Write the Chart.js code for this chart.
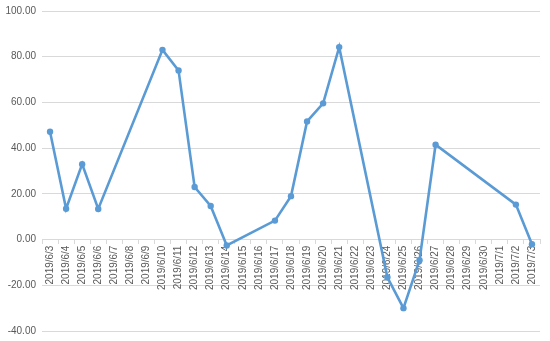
<!DOCTYPE html>
<html>
<head>
<meta charset="utf-8">
<script src="https://cdn.jsdelivr.net/npm/chart.js@4"></script>
<style>
html,body{margin:0;padding:0;background:#fff;}
#wrap{width:550px;height:341px;position:relative;}
</style>
</head>
<body>
<div id="wrap"><canvas id="c" width="550" height="341"></canvas></div>
<script>
const dates = ["2019/6/3","2019/6/4","2019/6/5","2019/6/6","2019/6/7","2019/6/8","2019/6/9","2019/6/10","2019/6/11","2019/6/12","2019/6/13","2019/6/14","2019/6/15","2019/6/16","2019/6/17","2019/6/18","2019/6/19","2019/6/20","2019/6/21","2019/6/22","2019/6/23","2019/6/24","2019/6/25","2019/6/26","2019/6/27","2019/6/28","2019/6/29","2019/6/30","2019/7/1","2019/7/2","2019/7/3"];
const values = [47.2,13.5,33.0,13.4,null,null,null,83.0,74.0,23.0,14.7,-2.6,null,null,8.3,19.0,51.7,59.6,84.2,null,null,-16.5,-30.0,-9.0,41.5,null,null,null,null,15.3,-2.0];
const yTicks = [-40,-20,0,20,40,60,80,100];

const textColor = '#595959';
const gridColor = '#d9d9d9';
const lineColor = '#5b9bd5';

new Chart(document.getElementById('c'), {
  type: 'line',
  data: {
    labels: dates,
    datasets: [{
      data: values,
      borderColor: lineColor,
      backgroundColor: lineColor,
      borderWidth: 2.6,
      pointRadius: 3.2,
      pointHoverRadius: 3.2,
      pointBorderWidth: 0,
      spanGaps: true,
      tension: 0
    }]
  },
  options: {
    responsive: false,
    animation: false,
    devicePixelRatio: 1,
    layout: {padding: {left: 0, top: 11, right: 10, bottom: 10}},
    plugins: {legend: {display: false}, tooltip: {enabled: false}},
    scales: {
      x: {
        type: 'category',
        position: {y: 0},
        offset: true,
        afterFit: (s) => { s.paddingTop = 0; s.paddingBottom = 0; },
        grid: {
          offset: true,
          drawOnChartArea: false,
          drawTicks: true,
          tickLength: 4,
          color: gridColor
        },
        border: {display: true, color: gridColor, width: 1},
        ticks: {
          autoSkip: false,
          minRotation: 90,
          maxRotation: 90,
          padding: 2,
          color: textColor,
          font: {family: 'Liberation Sans', size: 10}
        }
      },
      y: {
        min: yTicks[0],
        max: yTicks[yTicks.length - 1],
        afterFit: (s) => { s.width = 42; s.paddingTop = 0; s.paddingBottom = 0; },
        afterBuildTicks: (s) => { s.ticks = yTicks.map(v => ({value: v})); },
        grid: {color: gridColor, drawTicks: false, lineWidth: 1},
        border: {display: false},
        ticks: {
          padding: 6,
          color: textColor,
          font: {family: 'Liberation Sans', size: 10},
          callback: (v) => Number(v).toFixed(2)
        }
      }
    }
  }
});
</script>
</body>
</html>
